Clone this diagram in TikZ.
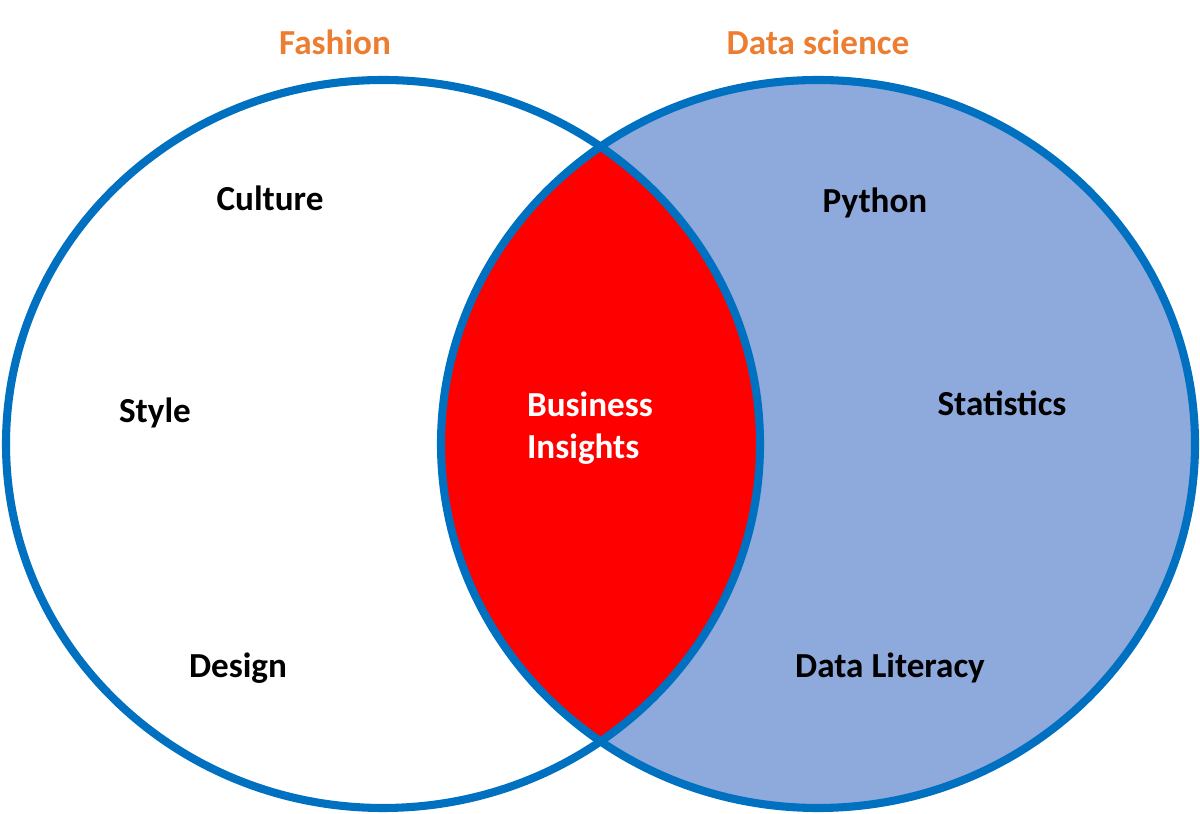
\documentclass[tikz,border=0pt]{standalone}
\usepackage{fontspec}
\setmainfont{Carlito}
\usetikzlibrary{positioning}
\definecolor{vennblue}{RGB}{0,112,192}
\definecolor{vennfill}{RGB}{142,169,219}
\definecolor{titleorange}{RGB}{237,125,49}
\tikzset{
  ring/.style={draw=vennblue, line width=4.6pt},
  word/.style={font=\fontsize{20}{24}\selectfont\bfseries, text=black},
  title/.style={font=\fontsize{20}{24}\selectfont\bfseries, text=titleorange},
}
\begin{document}
\begin{tikzpicture}[x=0.02cm, y=0.02cm]
  \useasboundingbox (0,0) rectangle (1200,814);
  % circles
  \fill[vennfill] (818,370) ellipse [x radius=377, y radius=364];
  \begin{scope}
    \clip (383,370) ellipse [x radius=377, y radius=364];
    \fill[red] (818,370) ellipse [x radius=377, y radius=364];
  \end{scope}
  \draw[ring] (383,370) ellipse [x radius=377, y radius=364];
  \draw[ring] (818,370) ellipse [x radius=377, y radius=364];

  \node[title] (fashion) at (335,772) {Fashion};
  \node[title] (datasci) at (818,772) {Data science};

  \node[word] (culture) at (270,616) {Culture};
  \node[word] (style) at (155,401) {Style};
  \node[word] (design) at (238,146) {Design};
  \node[word] (python) at (875,611) {Python};
  \node[word] (stats) at (1002,411) {Statistics};
  \node[word] (literacy) at (890,146) {Data Literacy};
  \node[word, text=white, align=left] (insights) at (590,386) {Business\\Insights};
\end{tikzpicture}
\end{document}
